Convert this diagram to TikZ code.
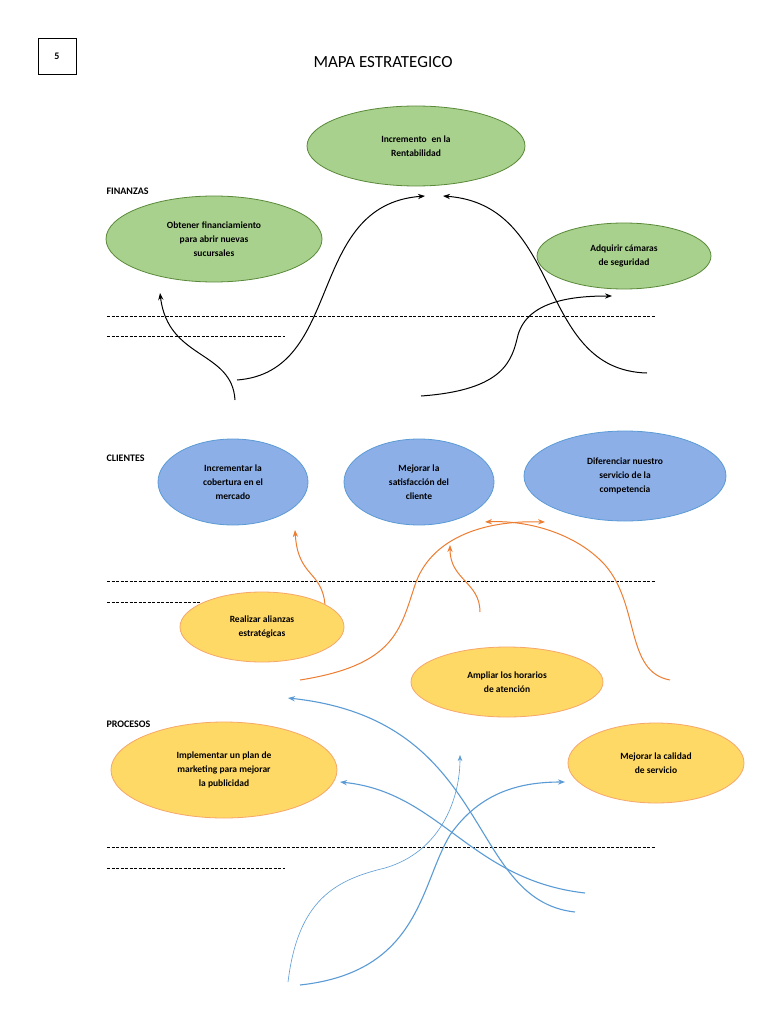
\documentclass[tikz,border=0pt]{standalone}
\usepackage{fontspec}
\setmainfont{Carlito}
\usetikzlibrary{shapes.geometric,arrows.meta}
\definecolor{gfill}{HTML}{A9D18E}\definecolor{gline}{HTML}{70AD47}
\definecolor{bfill}{HTML}{9DC3E6}\definecolor{bline}{HTML}{5B9BD5}
\definecolor{ofill}{HTML}{FFD966}\definecolor{oline}{HTML}{F4B183}
\definecolor{oarr}{HTML}{ED7D31}
\begin{document}
\begin{tikzpicture}[x=1pt,y=-1pt,
 el/.style={ellipse,draw,line width=0.8pt,align=center,font=\bfseries\fontsize{9.5}{14}\selectfont,inner sep=0pt},
 g/.style={el,fill=gfill,draw=gline!80!black},
 b/.style={el,fill=bfill!90!blue,draw=bline},
 o/.style={el,fill=ofill,draw=oline!80!orange},
 lab/.style={anchor=west,font=\bfseries\fontsize{10}{12}\selectfont},
 dl/.style={dashed,dash pattern=on 3pt off 1.5pt,line width=0.5pt},
 ka/.style={-{Stealth[length=7pt]},line width=1pt},
 oa/.style={-{Stealth[length=7pt]},line width=1pt,draw=oarr},
 ba/.style={-{Stealth[length=7pt]},line width=1.1pt,draw=bline}]
\useasboundingbox[fill=white] (0,0) rectangle (768,1024);
\node[draw,line width=0.8pt,minimum width=38pt,minimum height=36pt,font=\bfseries] (five) at (57,56) {5};
\node[font=\fontsize{17}{20}\selectfont] (title) at (383,62) {MAPA ESTRATEGICO};
% finanzas
\node[g,minimum width=218pt,minimum height=80pt] (rent) at (416,146) {Incremento\; en la\\Rentabilidad};
\node[lab] (fin) at (103,191) {FINANZAS};
\node[g,minimum width=216pt,minimum height=86pt] (obt) at (214,239) {Obtener financiamiento\\para abrir nuevas\\sucursales};
\node[g,minimum width=174pt,minimum height=66pt] (cam) at (624,256) {Adquirir cámaras\\de seguridad};
\coordinate (d1a) at (107,316); \coordinate (d1b) at (656,316);
\coordinate (d2a) at (107,336); \coordinate (d2b) at (285,336);
\draw[dl] (d1a)--(d1b); \draw[dl] (d2a)--(d2b);
\coordinate (k1) at (235,400); \coordinate (k1e) at (160,293);
\coordinate (k2) at (237,380); \coordinate (k2e) at (425,196);
\coordinate (k3) at (647,373); \coordinate (k3e) at (443,196);
\coordinate (k4) at (421,396); \coordinate (k4e) at (612,296);
\draw[ka] (k1) .. controls (232,350) and (168,360) .. (k1e);
\draw[ka] (k2) .. controls (345,372) and (305,205) .. (k2e);
\draw[ka] (k3) .. controls (535,370) and (565,205) .. (k3e);
\draw[ka] (k4) .. controls (505,390) and (512,360) .. (518,335) .. controls (528,300) and (575,296) .. (k4e);
% clientes
\node[lab] (cli) at (103,458) {CLIENTES};
\node[b,minimum width=150pt,minimum height=86pt] (cob) at (233,482) {Incrementar la\\cobertura en el\\mercado};
\node[b,minimum width=150pt,minimum height=86pt] (sat) at (419,482) {Mejorar la\\satisfacción del\\cliente};
\node[b,minimum width=202pt,minimum height=90pt] (dif) at (625,476) {Diferenciar nuestro\\servicio de la\\competencia};
\coordinate (d3a) at (107,581); \coordinate (d3b) at (656,581);
\coordinate (d4a) at (107,602); \coordinate (d4b) at (200,602);
\draw[dl] (d3a)--(d3b); \draw[dl] (d4a)--(d4b);
\coordinate (o1) at (325,605); \coordinate (o1e) at (295,530);
\coordinate (o2) at (300,680); \coordinate (o2e) at (545,522);
\coordinate (o3) at (670,680); \coordinate (o3e) at (485,522);
\coordinate (o4) at (480,612); \coordinate (o4e) at (450,545);
\draw[oa] (o1) .. controls (322,570) and (298,578) .. (o1e);
\draw[oa] (o2) .. controls (395,665) and (400,630) .. (415,585) .. controls (430,540) and (480,520) .. (o2e);
\draw[oa] (o3) .. controls (625,672) and (640,605) .. (605,565) .. controls (575,532) and (525,520) .. (o3e);
\draw[oa] (o4) .. controls (480,582) and (450,580) .. (o4e);
\node[o,minimum width=164pt,minimum height=70pt] (ali) at (262,627) {Realizar alianzas\\estratégicas};
\node[o,minimum width=192pt,minimum height=70pt] (hor) at (507,682) {Ampliar los horarios\\de atención};
% procesos
\node[lab] (pro) at (103,724) {PROCESOS};
\node[o,minimum width=226pt,minimum height=96pt] (mkt) at (224,770) {Implementar un plan de\\marketing para mejorar\\la publicidad};
\node[o,minimum width=176pt,minimum height=80pt] (cal) at (656,763) {Mejorar la calidad\\de servicio};
\coordinate (d5a) at (107,847); \coordinate (d5b) at (656,847);
\coordinate (d6a) at (107,868); \coordinate (d6b) at (285,868);
\draw[dl] (d5a)--(d5b); \draw[dl] (d6a)--(d6b);
\coordinate (b1) at (575,912); \coordinate (b2) at (585,893);
\coordinate (b3) at (288,982); \coordinate (b4) at (300,985);
\draw[ba] (b1) .. controls (465,900) and (495,720) .. (288,698);
\draw[ba] (b2) .. controls (470,880) and (440,792) .. (340,782);
\draw[-{Stealth[length=6pt]},line width=0.6pt,draw=bline] (b3) .. controls (298,900) and (335,880) .. (385,868) .. controls (440,852) and (460,800) .. (460,755);
\draw[ba] (b4) .. controls (420,972) and (420,885) .. (450,835) .. controls (480,792) and (520,782) .. (565,782);
\end{tikzpicture}
\end{document}
